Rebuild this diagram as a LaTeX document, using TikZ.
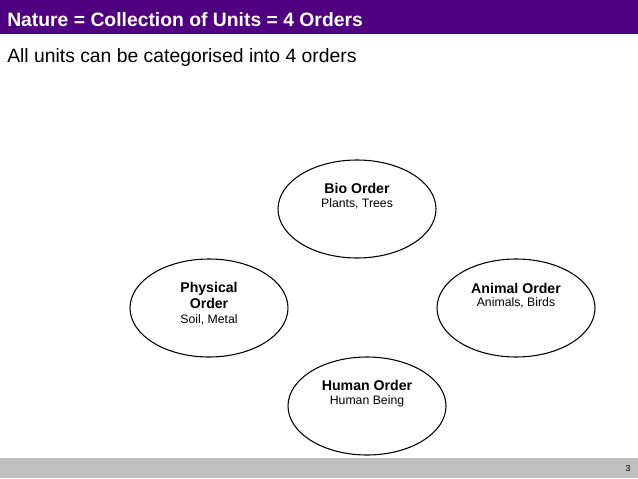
\documentclass[tikz,border=0pt]{standalone}
\usepackage{fontspec}
\setmainfont{Liberation Sans}
\usetikzlibrary{shapes.geometric}
\definecolor{barpurple}{HTML}{4F0080}
\definecolor{bargray}{HTML}{BFBFBF}
\tikzset{
  order/.style={draw, ellipse, line width=0.8pt, minimum width=158*0.75pt, minimum height=98*0.75pt, inner sep=0},
  head/.style={font=\fontsize{10.6pt}{12pt}\selectfont\bfseries, align=center, inner sep=0},
  sub/.style={font=\fontsize{9.2pt}{11pt}\selectfont, inner sep=0},
}
\begin{document}
\begin{tikzpicture}[x=0.75pt,y=-0.75pt]
\useasboundingbox (0,0) rectangle (638,478);
\fill[barpurple] (0,0) rectangle (638,34);
\fill[bargray] (0,458) rectangle (638,478);
\node[anchor=west, text=white, font=\fontsize{14.5pt}{16pt}\selectfont\bfseries, inner sep=0] (title) at (7,20) {Nature = Collection of Units = 4 Orders};
\node[anchor=west, font=\fontsize{14.5pt}{16pt}\selectfont, inner sep=0] (subtitle) at (7,58) {All units can be categorised into 4 orders};
\node[font=\fontsize{6.5pt}{8pt}\selectfont, inner sep=0] (page) at (628,469) {3};

\node[order] (bio) at (357,209) {};
\node[order] (phys) at (209,308) {};
\node[order] (animal) at (516,308) {};
\node[order] (human) at (367,406) {};

\node[head] (bioh) at (357,188) {Bio Order};
\node[sub] (bios) at (357,204) {Plants, Trees};
\node[head] (physh) at (209,295) {Physical\\Order};
\node[sub] (physs) at (209,320) {Soil, Metal};
\node[head] (animalh) at (516,288) {Animal Order};
\node[sub] (animals) at (516,303) {Animals, Birds};
\node[head] (humanh) at (367,385) {Human Order};
\node[sub] (humans) at (367,401) {Human Being};
\end{tikzpicture}
\end{document}
